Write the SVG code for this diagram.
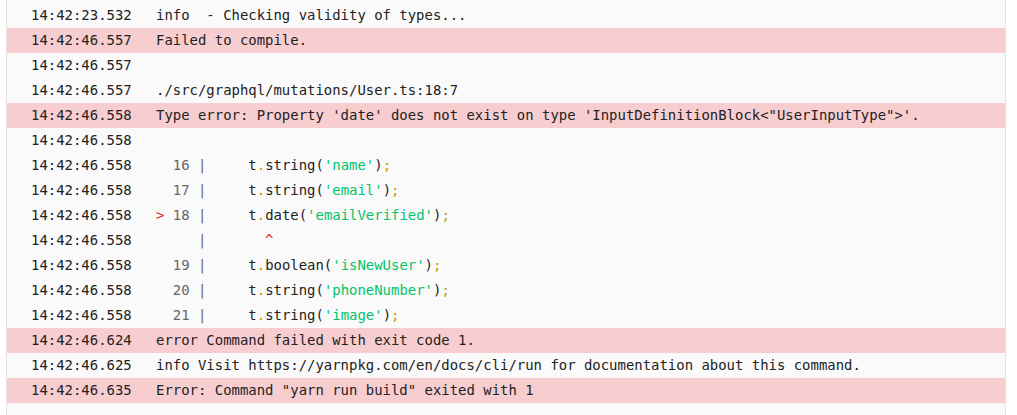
<svg xmlns="http://www.w3.org/2000/svg" width="1017" height="415" viewBox="0 0 1017 415">
<style>
text{font-family:"DejaVu Sans Mono","Liberation Mono",monospace;font-size:13.95px;fill:#222;white-space:pre}
.p{fill:#f8cdd0}
.g{fill:#00c46a}.y{fill:#b8a000}.r{fill:#e0242a}.n{fill:#666}
</style>
<rect width="1017" height="415" fill="#fff"/>
<rect x="6" y="0" width="999" height="415" fill="#fafafa"/>
<line x1="6.5" y1="0" x2="6.5" y2="415" stroke="#e4e4e4"/>
<line x1="1005.5" y1="0" x2="1005.5" y2="415" stroke="#e4e4e4"/>
<g id="bands">
<rect class="p" x="7" y="28" width="998" height="25"/>
<rect class="p" x="7" y="103" width="998" height="25"/>
<rect class="p" x="7" y="328" width="998" height="25"/>
<rect class="p" x="7" y="378" width="998" height="25"/>
</g>
<g id="times">
<text x="31" y="20">14:42:23.532</text>
<text x="31" y="45">14:42:46.557</text>
<text x="31" y="70">14:42:46.557</text>
<text x="31" y="95">14:42:46.557</text>
<text x="31" y="120">14:42:46.558</text>
<text x="31" y="145">14:42:46.558</text>
<text x="31" y="170">14:42:46.558</text>
<text x="31" y="195">14:42:46.558</text>
<text x="31" y="220">14:42:46.558</text>
<text x="31" y="245">14:42:46.558</text>
<text x="31" y="270">14:42:46.558</text>
<text x="31" y="295">14:42:46.558</text>
<text x="31" y="320">14:42:46.558</text>
<text x="31" y="345">14:42:46.624</text>
<text x="31" y="370">14:42:46.625</text>
<text x="31" y="395">14:42:46.635</text>
</g>
<g id="messages">
<text x="156" y="20">info  - Checking validity of types...</text>
<text x="156" y="45">Failed to compile.</text>
<text x="156" y="95">./src/graphql/mutations/User.ts:18:7</text>
<text x="156" y="120">Type error: Property 'date' does not exist on type 'InputDefinitionBlock&lt;"UserInputType"&gt;'.</text>
<text x="156" y="170"><tspan class="n">  16 |</tspan>     t<tspan class="y">.</tspan>string(<tspan class="g">'name'</tspan>)<tspan class="y">;</tspan></text>
<text x="156" y="195"><tspan class="n">  17 |</tspan>     t<tspan class="y">.</tspan>string(<tspan class="g">'email'</tspan>)<tspan class="y">;</tspan></text>
<text x="156" y="220"><tspan class="r">&gt;</tspan><tspan class="n"> 18 |</tspan>     t<tspan class="y">.</tspan>date(<tspan class="g">'emailVerified'</tspan>)<tspan class="y">;</tspan></text>
<text x="156" y="245"><tspan class="n">     |</tspan>       <tspan class="r">^</tspan></text>
<text x="156" y="270"><tspan class="n">  19 |</tspan>     t<tspan class="y">.</tspan>boolean(<tspan class="g">'isNewUser'</tspan>)<tspan class="y">;</tspan></text>
<text x="156" y="295"><tspan class="n">  20 |</tspan>     t<tspan class="y">.</tspan>string(<tspan class="g">'phoneNumber'</tspan>)<tspan class="y">;</tspan></text>
<text x="156" y="320"><tspan class="n">  21 |</tspan>     t<tspan class="y">.</tspan>string(<tspan class="g">'image'</tspan>)<tspan class="y">;</tspan></text>
<text x="156" y="345">error Command failed with exit code 1.</text>
<text x="156" y="370">info Visit https://yarnpkg.com/en/docs/cli/run for documentation about this command.</text>
<text x="156" y="395">Error: Command "yarn run build" exited with 1</text>
</g>
</svg>
